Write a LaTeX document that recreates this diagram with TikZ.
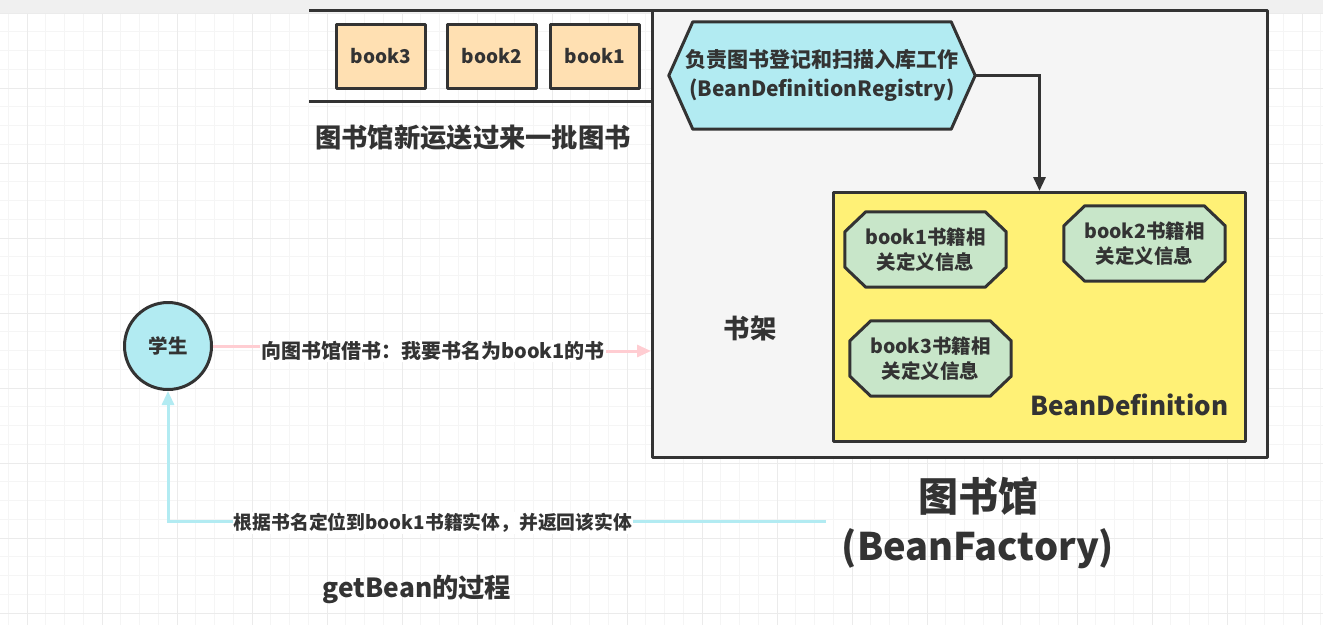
\documentclass[tikz,border=0pt]{standalone}
\usepackage{fontspec}
\setmainfont{Noto Sans CJK SC}
\usetikzlibrary{calc, arrows.meta}

\definecolor{inkgray}{HTML}{333333}
\definecolor{shelfgray}{HTML}{F5F5F5}
\definecolor{bookorange}{HTML}{FFE0B2}
\definecolor{iceblue}{HTML}{B2EBF2}
\definecolor{mintgreen}{HTML}{C8E6C9}
\definecolor{beanyellow}{HTML}{FFF176}
\definecolor{rosepink}{HTML}{FFCDD2}

\tikzset{
    box/.style={draw=inkgray, line width=3pt, line join=round, rectangle, text=inkgray, font=\fontsize{19}{25}\selectfont\bfseries, align=center, inner sep=0pt},
    bookbox/.style={box, fill=bookorange, minimum width=89pt, minimum height=64pt},
    outline/.style={draw=inkgray, line width=3pt, line join=round},
    beanbox/.style={rectangle, text=inkgray, font=\fontsize{19.5}{25}\selectfont\bfseries, align=center, inner sep=0pt, minimum width=161pt, minimum height=75pt},
    label/.style={text=inkgray, font=\fontsize{18.8}{22}\selectfont\bfseries, align=center, inner sep=1pt},
    title/.style={text=inkgray, font=\fontsize{26.3}{30}\selectfont\bfseries, align=center, inner sep=0pt},
    flow/.style={line width=3pt, -{Triangle[length=14pt, width=12pt]}}
}

% outline with cut corners, laid over an empty node: name, cut in x, cut in y, colour
\newcommand{\cutbox}[4]{
    \draw[outline, fill=#4] ($(#1.north west)+(#2, 0)$) -- ($(#1.north east)+(-#2, 0)$)
        -- ($(#1.north east)+(0, #3)$) -- ($(#1.south east)+(0, -#3)$)
        -- ($(#1.south east)+(-#2, 0)$) -- ($(#1.south west)+(#2, 0)$)
        -- ($(#1.south west)+(0, -#3)$) -- ($(#1.north west)+(0, #3)$) -- cycle;
}

\begin{document}
\begin{tikzpicture}[x=1pt, y=-1pt]
            \useasboundingbox (0, 0) rectangle (1323, 625);
            \fill[white] (0, 0) rectangle (1323, 625);
            \draw[shift={(8.25, 13)}, step=18.75pt, line width=0.8pt, color=black!4] (-8.25, -13) grid (1314.75, 612);
            \draw[shift={(27, 13)}, step=75pt, line width=1pt, color=black!8] (-27, -13) grid (1296, 612);
            \fill[black!6] (0, 0) rectangle (1323, 12.5);

            \draw[inkgray, line width=3pt] (309, 10) -- (652, 10);
            \draw[inkgray, line width=3pt] (309, 101) -- (652, 101);
            \node[box, fill=shelfgray, minimum width=615pt, minimum height=447pt] (library) at (960, 234) {};
            \node[bookbox] (book3) at (381, 56) {book3};
            \node[bookbox] (book2) at (492, 56) {book2};
            \node[bookbox] (book1) at (595, 56) {book1};
            \node[title] (arrival) at (473, 138) {图书馆新运送过来一批图书};

            \node[beanbox, minimum width=306pt, minimum height=107pt] (registry) at (822, 75.5) {};
            \draw[outline, fill=iceblue] ($(registry.north west)+(24, 0)$) -- ($(registry.north east)+(-24, 0)$) -- (registry.east)
                -- ($(registry.south east)+(-24, 0)$) -- ($(registry.south west)+(24, 0)$) -- (registry.west) -- cycle;
            \node[beanbox, font=\fontsize{21}{29}\selectfont\bfseries] (registrytext) at (registry) {负责图书登记和扫描入库工作\\(BeanDefinitionRegistry)};
            \node[box, fill=beanyellow, minimum width=412pt, minimum height=249pt] (definition) at (1039.5, 317) {};
            \draw[inkgray, flow] (registry.east) -| (definition.north);

            \node[beanbox] (bean1) at (925.5, 249.5) {};
            \cutbox{bean1}{21}{20}{mintgreen}
            \node[beanbox] (bean1text) at (bean1) {book1书籍相\\关定义信息};
            \node[beanbox] (bean2) at (1144.5, 243.5) {};
            \cutbox{bean2}{21}{20}{mintgreen}
            \node[beanbox] (bean2text) at (bean2) {book2书籍相\\关定义信息};
            \node[beanbox] (bean3) at (930.5, 358.5) {};
            \cutbox{bean3}{21}{20}{mintgreen}
            \node[beanbox] (bean3text) at (bean3) {book3书籍相\\关定义信息};
            \node[title, font=\fontsize{26}{30}\selectfont\bfseries] (definitionname) at (1129.5, 405) {BeanDefinition};
            \node[title] (shelf) at (750, 329) {书架};

            \node[box, circle, fill=iceblue, minimum size=87pt, font=\fontsize{19.5}{25}\selectfont\bfseries] (student) at (168, 346) {学生};
            \node[title, font=\fontsize{40}{49}\selectfont\bfseries, minimum width=304pt] (factory) at (978, 523) {图书馆\\\fontsize{38}{49}\selectfont(BeanFactory)};
            \node[title] (process) at (417, 589) {getBean的过程};

            \coordinate (borrowend) at (library.west |- 0, 351);
            \draw[rosepink, flow] (student.east) -- (432, 346) -- (432, 351) -- (borrowend);
            \node[label, fill=white, font=\fontsize{20}{22}\selectfont\bfseries] (borrow) at (433, 351) {向图书馆借书：我要书名为book1的书};
            \draw[iceblue, flow] ([yshift=2pt]factory.west) -| (student.south);
            \node[label, fill=white] (locate) at (433, 523) {根据书名定位到book1书籍实体，并返回该实体};
        \end{tikzpicture}
\end{document}
